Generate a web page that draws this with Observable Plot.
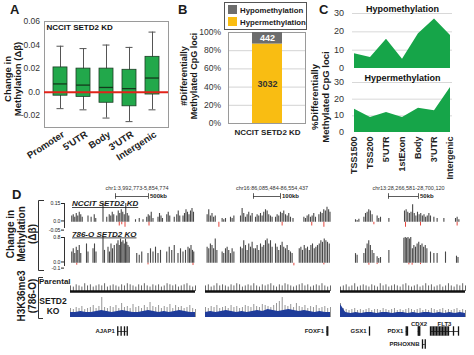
<!DOCTYPE html>
<html><head><meta charset="utf-8">
<script src="https://cdn.jsdelivr.net/npm/d3@7"></script>
<script src="https://cdn.jsdelivr.net/npm/@observablehq/plot@0.6"></script>
<style>
body{margin:0;background:#fff;}
#root{position:relative;width:474px;height:355px;overflow:hidden;background:#fff;}
</style></head><body><div id="root"></div>
<script>
// ---------- DATA ----------
// Panel A (box summary)
const aCats = ["Promoter","5'UTR","Body","3'UTR","Intergenic"];
const aLow  = [-0.014,-0.015,-0.022,-0.025,-0.015];
const aQ1   = [-0.003,-0.004,-0.009,-0.012,-0.002];
const aMed  = [0.007,0.006,0.004,0.003,0.012];
const aQ3   = [0.021,0.020,0.020,0.019,0.030];
const aHigh = [0.039,0.037,0.040,0.038,0.051];
const aTicks = [-0.02,0,0.02,0.04,0.06];
const aTitle = "NCCIT SETD2 KD";
// Panel B
const bLabel = "NCCIT SETD2 KD";
const bCats = ["Hypermethylation","Hypomethylation"];
const bCounts = [3032, 442];
const bColors = ["#f9bd12","#6d6d6d"];
const bTicks = [0,0.2,0.4,0.6,0.8,1];
// Panel C
const cCats = ["TSS1500","TSS200","5'UTR","1stExon","Body","3'UTR","Intergenic"];
const cHypo = [8,6,16,5,19,27,18];
const cHyper = [14,9,12,9,14.5,13,27];
const cTicks = [0,10,20,30];
// Panel D
const regions = ["chr1","chr16","chr13"];
const regionLabels = ["chr1:3,992,773-5,854,774","chr16:86,085,484-86,554,437","chr13:28,266,581-28,700,120"];
const scaleLabels = ["500kb","100kb","50kb"];
const scaleStart = [36, 38.4, 38.4];
const scaleEnd = [62.4, 60, 62.4];
// methylation change, [position % of region, delta beta]
const nccitChr1 = [[1,.05],[2.2,.06],[3.4,.04],[4.6,.07],[5.8,.05],[7,.08],[8.2,.06],[9.4,.04],[14,.05],[16.5,.04],[19,.06],[20.2,.03],[26,.15],[29,.04],[31,.06],[32.2,.05],[33.4,.08],[34.6,.06],[37,.05],[38.2,.09],[39.4,.07],[40.6,.1],[41.8,.08],[43,.06],[44.2,.15],[45.4,.07],[46.6,.05],[39,-.03],[41,-.02],[43.6,-.04],[52,.02],[55,.03],[58,.02],[61,.04],[62.2,.06],[63.4,.05],[64.6,.08],[66,.03],[62.8,-.03],[70,.04],[71.2,.07],[72.4,.05],[73.6,.03],[77,.06],[78.2,.08],[79.4,.05],[83,.04],[85,.06],[86.2,.09],[87.4,.05],[90,.05],[91.2,.07],[92.4,.1],[93.6,.08],[94.8,.06],[96,.09],[97.2,.11],[98.4,.08]];
const nccitChr16 = [[1.3,.06],[2.6,.1],[3.9,.05],[5.2,.07],[6.5,.04],[7.8,.05],[10.7,-.04],[13.3,.03],[14.6,.02],[16,.03],[20,.04],[21.3,.03],[22.7,.05],[28,.05],[29.3,.11],[30.6,.07],[32,.04],[33.3,.06],[34.6,.08],[36,.05],[37.3,.07],[40,.04],[41.3,.06],[42.6,.05],[44,.07],[45.3,.05],[46.6,.08],[48,.1],[49.3,.09],[50.6,.06],[52,.05],[53.3,.04],[56,.04],[57.3,.06],[58.6,.05],[60,.08],[61.3,.07],[62.6,.09],[64,.06],[65.3,.05],[66.6,.07],[68,.04],[70,.03],[61.3,-.03],[78.7,.04],[80,.03],[81.3,.05],[82.6,.06],[84,.04],[85.3,.05],[86.6,.07],[88,.04],[85,-.03],[90.7,.06],[92,.08],[93.3,.07],[94.6,.1],[95.9,.09],[97.2,.12],[98.5,.1],[99.6,.08],[94.7,-.04]];
const nccitChr13 = [[12,.02],[13.3,.015],[14.7,.025],[18.7,.04],[20,.07],[21.3,.08],[22.6,.1],[23.9,.09],[25.3,.06],[26.7,-.02],[29.3,.05],[30.6,.03],[32,.04],[38.7,.03],[51.2,.09],[52.5,.1],[53.8,.08],[55.1,.07],[56.4,.08],[57.7,.14],[52,-.04],[59,.07],[60.3,.05],[61.6,.08],[62.9,.06],[64.2,.07],[65.5,.05],[66.8,.06],[68.1,.04],[69.4,.05],[70.7,.07],[72,.05],[64,-.03],[74.7,.04],[77.3,.03],[82.7,.03],[92,.03],[93.3,.04],[94.7,.02],[93.3,-.03]];
const o786Chr1 = [[1,.35],[2.2,.45],[3.4,.3],[4.6,.5],[5.8,.4],[7,.55],[8.2,.3],[12.8,.6],[14,.35],[18,.45],[19.2,.6],[20.4,.35],[26,.8],[27.2,.4],[30,.5],[31.2,.35],[32.4,.6],[33.6,.45],[35,.55],[37,.6],[38,.7],[39,.55],[40,.75],[41,.65],[42,.7],[43,.6],[44,.75],[45,.65],[46,.55],[47,.5],[53,.3],[55,.25],[57,.35],[62,.3],[64,.45],[66,.35],[68,.5],[70,.3],[72,.4],[77,.35],[79,.5],[81,.4],[83,.55],[86,.3],[88,.45],[90,.35],[92,.4],[94,.5],[95.2,.45],[96.4,.55],[97.6,.4],[98.6,.35],[5,-.06],[62,-.05],[98,-.07]];
const o786Chr16 = [[1.3,.5],[2.6,.45],[3.9,.6],[5.2,.55],[6.5,.45],[7.8,.75],[9.1,.4],[13.3,.35],[14.6,.3],[16,.45],[17.3,.5],[18.6,.4],[20,.3],[21.3,.45],[22.7,.35],[28,.5],[29.3,.45],[30.6,.7],[32,.55],[33.3,.4],[34.6,.6],[36,.5],[37.3,.65],[38.6,.45],[40,.45],[41.3,.55],[42.6,.4],[44,.6],[45.3,.5],[46.6,.55],[48,.7],[49.3,.75],[50.6,.6],[52,.7],[53.3,.5],[56,.6],[57.3,.5],[58.6,.4],[60,.55],[61.3,.65],[62.6,.5],[64,.45],[65.3,.55],[66.6,.4],[68,.35],[69.3,.3],[70.7,-.08],[75,.45],[76.3,.5],[77.6,.4],[79,.55],[80.3,.45],[81.6,.5],[83,.4],[84.3,.55],[85.6,.6],[87,.45],[88.3,.5],[89.6,.55],[91,.6],[92.3,.7],[93.6,.65],[95,.75],[96.3,.7],[97.6,.65],[99,.6],[94.7,-.05]];
const o786Chr13 = [[12,.3],[13.3,.25],[18.7,.3],[20,.45],[21.3,.6],[22.6,.7],[23.9,.55],[25.3,.4],[26.7,.3],[29.3,.2],[30.6,.15],[32,.18],[38.7,.4],[50.7,.78],[51.8,.8],[52.9,.78],[54,.8],[55.1,.75],[56.2,.8],[57.5,.45],[58.7,.55],[60,.5],[61.3,.6],[62.6,.65],[63.9,.55],[65.2,.6],[66.5,.5],[67.8,.55],[69.1,.45],[72,.35],[74.7,.3],[77.3,.3],[84,.35],[92.8,.22],[94,.18],[22.7,-.06],[29.3,-.04],[54.7,-.05],[57.3,-.06],[64,-.04]];
// H3K36me3 coverage (evenly spaced bins across each region)
const parentalChr1 = [5,4,6,5,4,7,5,6,4,5,6,5,7,4,5,6,5,4,6,5,7,6,5,4,6,5,7,5,4,6,5,6,4,5,7,6,5,6,4,5,6,7,5,4,5];
const parentalChr16 = [5,6,4,5,7,5,6,5,4,6,5,7,6,4,5,6,5,7,5,4,6,5,6,7,5,4,6,5,7,6,5,4,5,6,7,5,6,4,5,6,5,7,5,4,5];
const parentalChr13 = [4,5,6,4,5,7,4,5,6,5,4,6,5,4,7,5,6,4,5,6,5,4,6,7,5,4,5,6,4,5,7,5,6,4,5,6,4,5,7,5,4,6,5,7,5];
const koChr1 = [9,8,10,9,11,8,9,10,12,9,11,20,10,9,11,10,12,9,14,10,11,9,13,10,11,9,12,10,15,11,10,12,9,11,10,13,9,12,10,11,9,10,12,9,8];
const koChr16 = [10,9,11,10,12,9,10,11,9,12,10,11,9,10,12,11,10,13,11,10,13,12,11,10,12,14,16,20,12,11,13,10,14,11,10,12,9,11,10,12,9,10,11,9,10];
const koChr13 = [14,9,8,7,8,9,7,8,7,8,9,7,8,8,7,9,8,7,8,9,7,8,7,8,9,8,7,8,9,7,8,7,9,8,7,8,9,7,8,7,8,9,7,8,7];
const koBaseChr1 = [5,5,6,5,5,6,7,6,5,6,7,6,5,5,6,7,6,5,6,5,6,7,6,5,5];
const koBaseChr16 = [5,6,5,6,7,6,5,6,5,6,7,6,8,7,6,7,8,7,6,7,6,5,6,5,5];
const koBaseChr13 = [13,5,4,5,4,5,5,4,5,5,4,5,5,4,5,4,5,5,4,5,4,5,4,5,4];
// genes
const geneNames = ["AJAP1","FOXF1","GSX1","PDX1","CDX2","FLT3","PRHOXNB"];
const geneRegions = ["chr1","chr16","chr13","chr13","chr13","chr13","chr13"];
const geneRows = [0,0,0,0,0,0,1];
const geneLabelTop = [false,false,false,false,true,true,false];
const geneExons = [[37.8,40.5,43.2,45.4],[97.2,97.8],[23.2],[52.6,53.6],[62.2,62.8,63.4],[72,73.2,74.4,75.6,76.8,78,79.2,80.4,81.6,82.8,84,85.2,86.4,90.4,94.4],[65.6,67.8]];

// ---------- HELPERS ----------
const FONT = "Arial, 'Liberation Sans', sans-serif";
const root = document.getElementById("root");
function place(el, left, top){ el.style.position="absolute"; el.style.left=left+"px"; el.style.top=top+"px"; root.appendChild(el); return el; }
function plot(o){ return Plot.plot({...o, style:{fontFamily:FONT, background:"transparent", overflow:"visible", color:"#222"}}); }
const GREEN_BOX = "#22a84b", GREEN_AREA = "#16a549", RED = "#e2231a", BLUE = "#1f3c9a";

// ---------- PANEL A ----------
const aRows = aCats.map((c,i)=>({cat:c, low:aLow[i], q1:aQ1[i], med:aMed[i], q3:aQ3[i], high:aHigh[i]}));
const plotA = place(plot({
  width:172, height:165, marginLeft:44, marginRight:4, marginTop:21, marginBottom:38,
  x:{domain:aCats, paddingInner:0.4, paddingOuter:0.35},
  y:{domain:[-0.03,0.06], axis:null},
  marks:[
    Plot.frame({stroke:"#9a9a9a"}),
    Plot.axisX({tickRotate:-33, tickSize:0, tickPadding:6, dx:3, fontSize:9.5, fontWeight:"bold", label:null}),
    Plot.ruleX(aRows,{x:"cat", y1:"low", y2:"high", stroke:"#555", strokeWidth:1}),
    Plot.tickY(aRows,{x:"cat", y:"low", stroke:"#555", insetLeft:3.5, insetRight:3.5}),
    Plot.tickY(aRows,{x:"cat", y:"high", stroke:"#555", insetLeft:3.5, insetRight:3.5}),
    Plot.barY(aRows,{x:"cat", y1:"q1", y2:"q3", fill:GREEN_BOX, stroke:"#1c3d24", strokeWidth:0.8}),
    Plot.tickY(aRows,{x:"cat", y:"med", stroke:"#143a1c", strokeWidth:1.3}),
    Plot.ruleY([0],{stroke:RED, strokeWidth:2}),
    Plot.text([aTitle],{frameAnchor:"top-left", dx:2, dy:3, fontWeight:"bold", fontSize:8, fill:"#111"})
  ]
}), 0, 0);

// ---------- PANEL B ----------
const bRows = bCats.map((c,i)=>({cat:c, count:bCounts[i], grp:bLabel}));
const plotB = place(plot({
  width:140, height:140, marginLeft:58, marginRight:5, marginTop:32, marginBottom:17,
  x:{domain:[bLabel], padding:0.44},
  y:{domain:[0,1], axis:null},
  color:{domain:bCats, range:bColors},
  marks:[
    Plot.ruleY([0.2,0.4,0.6,0.8], {stroke:"#d3d3d3"}),
    Plot.frame({stroke:"#9a9a9a"}),
    Plot.axisX({tickSize:0, tickPadding:6, fontSize:8, fontWeight:"bold", label:null}),
    Plot.barY(bRows, Plot.stackY({offset:"normalize", x:"grp", y:"count", fill:"cat"})),
    Plot.text(bRows, Plot.stackY({offset:"normalize", x:"grp", y:"count", text:d=>d.cat==="Hypomethylation"?String(d.count):"", fill:"white", fontWeight:"bold", fontSize:9})),
    Plot.text(bRows, Plot.stackY({offset:"normalize", x:"grp", y:"count", text:d=>d.cat==="Hypermethylation"?String(d.count):"", fill:"#333", fontWeight:"bold", fontSize:9}))
  ]
}), 170, 0);

// ---------- PANEL C ----------
const cRows = cCats.map((c,i)=>({cat:c, hypo:cHypo[i], hyper:cHyper[i]}));
const plotC1 = place(plot({
  width:155, height:70, marginLeft:52, marginRight:3, marginTop:13, marginBottom:2,
  x:{domain:cCats, type:"point", padding:0, axis:null},
  y:{domain:[0,30], axis:null},
  marks:[
    Plot.ruleY([10,20,30], {stroke:"#d8d8d8"}),
    Plot.areaY(cRows,{x:"cat", y:"hypo", fill:GREEN_AREA}),
    Plot.text(["Hypomethylation"],{frameAnchor:"top", lineAnchor:"bottom", dy:-2, fontWeight:"bold", fontSize:9, fill:"#111"})
  ]
}), 300, 0);
const plotC2 = place(plot({
  width:155, height:110, marginLeft:52, marginRight:3, marginTop:12, marginBottom:48,
  x:{domain:cCats, type:"point", padding:0},
  y:{domain:[0,30], axis:null},
  marks:[
    Plot.ruleY([10,20,30], {stroke:"#d8d8d8"}),
    Plot.axisX({tickRotate:-90, tickSize:0, tickPadding:4, fontSize:9, fontWeight:"bold", label:null}),
    Plot.areaY(cRows,{x:"cat", y:"hyper", fill:GREEN_AREA}),
    Plot.text(["Hypermethylation"],{frameAnchor:"top", lineAnchor:"bottom", dy:-2, fontWeight:"bold", fontSize:9, fill:"#111"})
  ]
}), 300, 70);

// ---------- PANEL D ----------
const fxOpt = {domain:regions, paddingInner:10/135, paddingOuter:0, axis:null};
const tag = (region, arr) => arr.map(([pos,val])=>({region, pos, val}));
const bins = (region, arr) => arr.map((val,i)=>({region, pos:i*100/(arr.length-1), val}));
const nccit = [...tag("chr1",nccitChr1), ...tag("chr16",nccitChr16), ...tag("chr13",nccitChr13)];
const o786 = [...tag("chr1",o786Chr1), ...tag("chr16",o786Chr16), ...tag("chr13",o786Chr13)];
const fmtD = d=>d===0?"0.0":String(d);
function methTrack(data, dom, ticks, top, mTop, h){
  return place(plot({
    width:474, height:h, marginLeft:70, marginRight:9, marginTop:mTop, marginBottom:2,
    fx:fxOpt, x:{domain:[0,100], axis:null}, y:{domain:dom},
    marks:[
      Plot.axisY([ticks[2]], {tickFormat:fmtD, tickSize:3, tickPadding:1, fontSize:5.2, dx:-6, label:null}),
      Plot.axisY([ticks[1]], {tickFormat:fmtD, tickSize:3, tickPadding:1, fontSize:5.2, dx:-6, dy:-1.3, label:null}),
      Plot.axisY([ticks[0]], {tickFormat:fmtD, tickSize:3, tickPadding:1, fontSize:5.2, dx:-6, dy:1.6, label:null}),
      Plot.ruleX([{region:"chr1"}],{fx:"region", x:0, y1:dom[0], y2:dom[1], dx:-6, stroke:"#333"}),
      Plot.ruleX(data,{filter:d=>d.val>=0, fx:"region", x:"pos", y1:0, y2:"val", stroke:"#1a1a1a", strokeOpacity:0.8, strokeWidth:1.1}),
      Plot.ruleX(data,{filter:d=>d.val<0, fx:"region", x:"pos", y1:0, y2:"val", stroke:"#e4463e", strokeWidth:1})
    ]
  }), 0, top);
}
methTrack(nccit, [-0.05,0.15], [-0.05,0,0.15], 195, 8, 35);
methTrack(o786, [-0.1,0.8], [-0.1,0,0.8], 232, 5, 36);

const parental = [...bins("chr1",parentalChr1), ...bins("chr16",parentalChr16), ...bins("chr13",parentalChr13)];
place(plot({
  width:474, height:13, marginLeft:70, marginRight:9, marginTop:2, marginBottom:1,
  fx:fxOpt, x:{domain:[0,100], axis:null}, y:{domain:[0,9], axis:null},
  marks:[
    Plot.ruleX(parental,{fx:"region", x:"pos", y1:0, y2:"val", stroke:"#555", strokeWidth:0.9}),
    Plot.ruleY([0],{stroke:"#111", strokeWidth:2.5})
  ]
}), 0, 279);

const ko = [...bins("chr1",koChr1), ...bins("chr16",koChr16), ...bins("chr13",koChr13)];
const koBase = [...bins("chr1",koBaseChr1), ...bins("chr16",koBaseChr16), ...bins("chr13",koBaseChr13)];
place(plot({
  width:474, height:24, marginLeft:70, marginRight:9, marginTop:2, marginBottom:1,
  fx:fxOpt, x:{domain:[0,100], axis:null}, y:{domain:[0,21], axis:null},
  marks:[
    Plot.ruleX(ko,{fx:"region", x:"pos", y1:0, y2:"val", stroke:"#8a8a8a", strokeWidth:0.9}),
    Plot.areaY(koBase,{fx:"region", x:"pos", y:"val", fill:BLUE})
  ]
}), 0, 294);

// header (coordinates + scale bars)
const hdr = regions.map((r,i)=>({region:r, label:regionLabels[i], kb:scaleLabels[i], s:scaleStart[i], e:scaleEnd[i]}));
place(plot({
  width:474, height:18, marginLeft:70, marginRight:9, marginTop:0, marginBottom:0,
  fx:fxOpt, x:{domain:[0,100], axis:null}, y:{domain:[0,1], range:[13,5], axis:null},
  marks:[
    Plot.text(hdr,{fx:"region", x:d=>(d.s+d.e)/2, y:()=>1, text:"label", dx:5, fontSize:5.5, fill:"#333"}),
    Plot.ruleY(hdr,{fx:"region", x1:"s", x2:"e", y:()=>0, stroke:"#333", strokeWidth:0.8}),
    Plot.ruleX(hdr,{fx:"region", x:"s", y1:()=>-0.35, y2:()=>0.35, stroke:"#333", strokeWidth:0.8}),
    Plot.ruleX(hdr,{fx:"region", x:"e", y1:()=>-0.35, y2:()=>0.35, stroke:"#333", strokeWidth:0.8}),
    Plot.text(hdr,{fx:"region", x:"e", y:()=>0, text:"kb", dx:1.5, textAnchor:"start", fontWeight:"bold", fontSize:6, fill:"#222"})
  ]
}), 0, 183);

// genes
const genes = geneNames.map((n,i)=>({region:geneRegions[i], name:n, row:geneRows[i], top:geneLabelTop[i], s:Math.min(...geneExons[i]), e:Math.max(...geneExons[i])}));
const exons = geneNames.flatMap((n,i)=>geneExons[i].map(p=>({region:geneRegions[i], pos:p, row:geneRows[i]})));
place(plot({
  width:474, height:34, marginLeft:70, marginRight:9, marginTop:0, marginBottom:0,
  fx:fxOpt, x:{domain:[0,100], axis:null}, y:{domain:[-1,1], range:[0,26], axis:null},
  marks:[
    Plot.ruleY(genes,{fx:"region", x1:"s", x2:"e", y:"row", stroke:"#222", strokeWidth:0.8}),
    Plot.ruleX(exons,{fx:"region", x:"pos", y1:d=>d.row-0.36, y2:d=>d.row+0.36, stroke:"#111", strokeWidth:1.3}),
    Plot.text(genes,{filter:d=>!d.top, fx:"region", x:"s", y:"row", text:"name", dx:-3, textAnchor:"end", fontWeight:"bold", fontSize:6, fill:"#222"}),
    Plot.text(genes,{filter:d=>d.top, fx:"region", x:d=>(d.s+d.e)/2, y:"row", text:"name", dy:-6, lineAnchor:"bottom", fontWeight:"bold", fontSize:6, fill:"#222"})
  ]
}), 0, 318);

// ---------- OVERLAY TEXT / DECORATION ----------
const ov = d3.create("svg").attr("width",474).attr("height",355)
  .style("position","absolute").style("left","0px").style("top","0px").style("font-family",FONT);
function T(x,y,s,{size=9,weight="bold",anchor="start",rot=0,fill="#1a1a1a",style="normal",deco=null}={}){
  const t = ov.append("text").attr("transform",`translate(${x},${y})`+(rot?` rotate(${rot})`:""))
    .attr("font-size",size).attr("font-weight",weight).attr("text-anchor",anchor)
    .attr("fill",fill).attr("font-style",style).text(s);
  if (deco) t.attr("text-decoration",deco);
}
// y tick labels placed with each plot's own y scale
function yTicks(p, ticks, fmt, xRight, offTop, size){
  const sc = p.scale("y");
  ticks.forEach(t => T(xRight, offTop + sc.apply(t) + size*0.35, fmt(t), {size, weight:"normal", anchor:"end", fill:"#333"}));
}
yTicks(plotA, aTicks, d=>d===0?"0.0":d.toFixed(2), 40, 0, 8.5);
yTicks(plotB, bTicks, d=>Math.round(d*100)+"%", 221, 0, 8.5);
yTicks(plotC1, cTicks, d=>String(d), 344, 0, 9);
yTicks(plotC2, cTicks, d=>String(d), 344, 70, 9);

T(10,14,"A",{size:13}); T(178,14,"B",{size:13}); T(319,14,"C",{size:13}); T(12,199,"D",{size:13});
T(11,79,"Change in",{size:9.5,anchor:"middle",rot:-90});
T(21,79,"Methylation (Δβ)",{size:9.5,anchor:"middle",rot:-90});
T(187,76,"#Differentially",{size:9,anchor:"middle",rot:-90});
T(197,76,"Methylated CpG loci",{size:9,anchor:"middle",rot:-90});
T(318,97,"%Differentially",{size:9.5,anchor:"middle",rot:-90});
T(328.5,97,"Methylated CpG loci",{size:9.5,anchor:"middle",rot:-90});
// legend B
ov.append("rect").attr("x",224.5).attr("y",2.5).attr("width",82).attr("height",27).attr("fill","white").attr("stroke","#555");
ov.append("rect").attr("x",228).attr("y",5).attr("width",9).attr("height",9).attr("fill",bColors[1]);
ov.append("rect").attr("x",228).attr("y",17).attr("width",9).attr("height",9).attr("fill",bColors[0]);
T(240,12.5,bCats[1],{size:7.8}); T(240,24.5,bCats[0],{size:7.8});
// D labels
T(14,234,"Change in",{size:10,anchor:"middle",rot:-90});
T(25,234,"Methylation",{size:10,anchor:"middle",rot:-90});
T(35.5,234,"(Δβ)",{size:10,anchor:"middle",rot:-90});
ov.append("path").attr("d","M44,200.5H38.5V270.5H44").attr("fill","none").attr("stroke","#333");
T(25,296,"H3K36me3",{size:10,anchor:"middle",rot:-90});
T(36,296,"(786-O)",{size:10,anchor:"middle",rot:-90});
ov.append("path").attr("d","M43,277.5H38.5V318.5H43").attr("fill","none").attr("stroke","#333");
T(39,284,"Parental",{size:8});
T(53,304,"SETD2",{size:8.5,anchor:"middle"});
T(53,314,"KO",{size:8.5,anchor:"middle"});
T(72,206,"NCCIT SETD2 KD",{size:8,style:"italic",deco:"underline"});
T(72,236.5,"786-O SETD2 KO",{size:8,style:"italic",deco:"underline"});
root.appendChild(ov.node());
</script></body></html>
